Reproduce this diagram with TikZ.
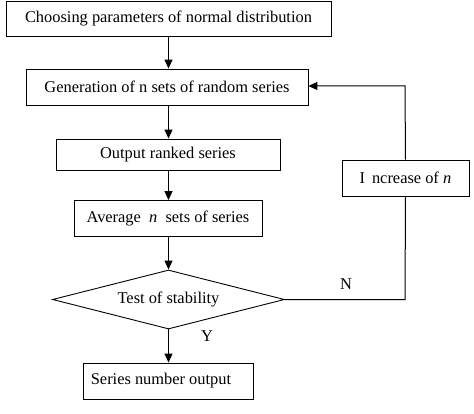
\documentclass[tikz,border=0pt]{standalone}
\usepackage{fontspec}
\setmainfont{Liberation Serif}
\usetikzlibrary{shapes.geometric,arrows.meta}
\begin{document}
\begin{tikzpicture}[x=1pt,y=-1pt,
  every node/.style={font=\fontsize{16.4}{18}\selectfont},
  box/.style={draw,line width=0.9pt,rectangle,inner sep=0pt},
  dia/.style={draw,line width=0.9pt,diamond,aspect=3.93,inner sep=0pt},
  arr/.style={line width=1pt,-{Triangle[length=9pt,width=8pt]}},
  ln/.style={line width=1pt}]
\useasboundingbox (0,0) rectangle (474,414);
\node[box,minimum width=325,minimum height=35] (b1) at (168.5,18.5) {Choosing parameters of normal distribution};
\node[box,minimum width=282,minimum height=36] (b2) at (167,87) {Generation of n sets of random series};
\node[box,minimum width=224,minimum height=31] (b3) at (168,154.5) {Output ranked series};
\node[box,minimum width=188,minimum height=36] (b4) at (168,218.5) {Average \ \textit{n}\ \ sets of series};
\node[dia,minimum width=232,minimum height=59] (d) at (168.5,299.5) {Test of stability};
\node[box,minimum width=170,minimum height=36] (b5) at (168,381) {\hspace*{-14pt}Series number output};
\node[box,minimum width=127,minimum height=36] (inc) at (405.5,178) {I\, ncrease of \textit{n}};
\coordinate (c1) at (405,86);
\coordinate (c2) at (405,299.5);
\draw[arr] (b1.south -| d.north) -- (b2.north -| d.north);
\draw[arr] (b2.south -| d.north) -- (b3.north -| d.north);
\draw[arr] (b3.south -| d.north) -- (b4.north -| d.north);
\draw[arr] (b4.south -| d.north) -- (d.north);
\draw[arr] (d.south) -- (b5.north -| d.south);
\draw[arr] (inc.north) -- (c1) -- (b2.east |- c1);
\draw[ln] (inc.south) -- (c2) -- (d.east);
\node (N) at (346,284) {N};
\node (Y) at (207,336) {Y};
\end{tikzpicture}
\end{document}
